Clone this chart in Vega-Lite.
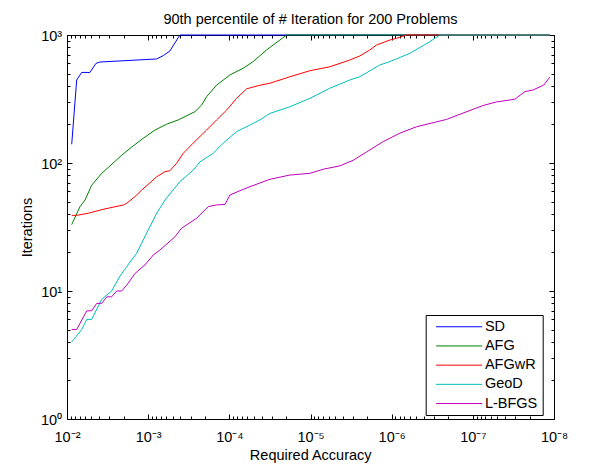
{
  "$schema": "https://vega.github.io/schema/vega-lite/v6.json",
  "description": "90th percentile of # Iteration for 200 Problems",
  "width": 487,
  "height": 384,
  "autosize": "none",
  "padding": {"left": 67, "top": 35, "right": 44, "bottom": 52},
  "background": "white",
  "title": {
    "text": "90th percentile of # Iteration for 200 Problems",
    "font": "Liberation Sans",
    "fontSize": 14.5,
    "fontWeight": "normal",
    "color": "black",
    "anchor": "middle",
    "frame": "group",
    "offset": 1
  },
  "data": {
    "values": [
      {"method": "SD", "accuracy": 8.75e-3, "iterations": 140},
      {"method": "SD", "accuracy": 7.6e-3, "iterations": 445},
      {"method": "SD", "accuracy": 6.59e-3, "iterations": 510},
      {"method": "SD", "accuracy": 5.21e-3, "iterations": 510},
      {"method": "SD", "accuracy": 4.4e-3, "iterations": 600},
      {"method": "SD", "accuracy": 3.93e-3, "iterations": 615},
      {"method": "SD", "accuracy": 7.85e-4, "iterations": 650},
      {"method": "SD", "accuracy": 6.52e-4, "iterations": 690},
      {"method": "SD", "accuracy": 5.4e-4, "iterations": 750},
      {"method": "SD", "accuracy": 4.07e-4, "iterations": 1000},
      {"method": "SD", "accuracy": 1.127e-8, "iterations": 1000},

      {"method": "AFG", "accuracy": 8.75e-3, "iterations": 33},
      {"method": "AFG", "accuracy": 6.92e-3, "iterations": 45.6},
      {"method": "AFG", "accuracy": 6.0e-3, "iterations": 51.4},
      {"method": "AFG", "accuracy": 4.97e-3, "iterations": 67},
      {"method": "AFG", "accuracy": 3.74e-3, "iterations": 83},
      {"method": "AFG", "accuracy": 2.95e-3, "iterations": 95},
      {"method": "AFG", "accuracy": 2.12e-3, "iterations": 115},
      {"method": "AFG", "accuracy": 1.6e-3, "iterations": 133},
      {"method": "AFG", "accuracy": 1.15e-3, "iterations": 156},
      {"method": "AFG", "accuracy": 8.24e-4, "iterations": 181},
      {"method": "AFG", "accuracy": 5.92e-4, "iterations": 201},
      {"method": "AFG", "accuracy": 4.26e-4, "iterations": 217},
      {"method": "AFG", "accuracy": 2.65e-4, "iterations": 252},
      {"method": "AFG", "accuracy": 2.19e-4, "iterations": 284},
      {"method": "AFG", "accuracy": 1.905e-4, "iterations": 330},
      {"method": "AFG", "accuracy": 1.435e-4, "iterations": 406},
      {"method": "AFG", "accuracy": 9.84e-5, "iterations": 487},
      {"method": "AFG", "accuracy": 6.75e-5, "iterations": 550},
      {"method": "AFG", "accuracy": 5.08e-5, "iterations": 620},
      {"method": "AFG", "accuracy": 3.48e-5, "iterations": 764},
      {"method": "AFG", "accuracy": 2.38e-5, "iterations": 914},
      {"method": "AFG", "accuracy": 1.97e-5, "iterations": 1000},
      {"method": "AFG", "accuracy": 1.127e-8, "iterations": 1000},

      {"method": "AFGwR", "accuracy": 8.75e-3, "iterations": 39},
      {"method": "AFGwR", "accuracy": 7.6e-3, "iterations": 39},
      {"method": "AFGwR", "accuracy": 5.47e-3, "iterations": 40.5},
      {"method": "AFGwR", "accuracy": 3.57e-3, "iterations": 43.5},
      {"method": "AFGwR", "accuracy": 2.03e-3, "iterations": 47},
      {"method": "AFGwR", "accuracy": 1.84e-3, "iterations": 48.4},
      {"method": "AFGwR", "accuracy": 1.455e-3, "iterations": 54.6},
      {"method": "AFGwR", "accuracy": 1.2e-3, "iterations": 61.5},
      {"method": "AFGwR", "accuracy": 7.85e-4, "iterations": 78},
      {"method": "AFGwR", "accuracy": 6.21e-4, "iterations": 85.5},
      {"method": "AFGwR", "accuracy": 5.4e-4, "iterations": 87},
      {"method": "AFGwR", "accuracy": 4.46e-4, "iterations": 99.6},
      {"method": "AFGwR", "accuracy": 3.7e-4, "iterations": 119},
      {"method": "AFGwR", "accuracy": 2.79e-4, "iterations": 143},
      {"method": "AFGwR", "accuracy": 1.905e-4, "iterations": 181},
      {"method": "AFGwR", "accuracy": 1.435e-4, "iterations": 217},
      {"method": "AFGwR", "accuracy": 1.08e-4, "iterations": 259},
      {"method": "AFGwR", "accuracy": 8.13e-5, "iterations": 320},
      {"method": "AFGwR", "accuracy": 6.12e-5, "iterations": 380},
      {"method": "AFGwR", "accuracy": 4.2e-5, "iterations": 405},
      {"method": "AFGwR", "accuracy": 3.16e-5, "iterations": 420},
      {"method": "AFGwR", "accuracy": 1.795e-5, "iterations": 472},
      {"method": "AFGwR", "accuracy": 1.016e-5, "iterations": 526},
      {"method": "AFGwR", "accuracy": 5.77e-6, "iterations": 565},
      {"method": "AFGwR", "accuracy": 3.27e-6, "iterations": 638},
      {"method": "AFGwR", "accuracy": 2.47e-6, "iterations": 686},
      {"method": "AFGwR", "accuracy": 1.86e-6, "iterations": 764},
      {"method": "AFGwR", "accuracy": 1.535e-6, "iterations": 835},
      {"method": "AFGwR", "accuracy": 1.05e-6, "iterations": 914},
      {"method": "AFGwR", "accuracy": 8.7e-7, "iterations": 942},
      {"method": "AFGwR", "accuracy": 6.6e-7, "iterations": 1000},
      {"method": "AFGwR", "accuracy": 1.127e-8, "iterations": 1000},

      {"method": "GeoD", "accuracy": 8.75e-3, "iterations": 4},
      {"method": "GeoD", "accuracy": 6.59e-3, "iterations": 5},
      {"method": "GeoD", "accuracy": 5.71e-3, "iterations": 6},
      {"method": "GeoD", "accuracy": 4.97e-3, "iterations": 6},
      {"method": "GeoD", "accuracy": 3.74e-3, "iterations": 8.6},
      {"method": "GeoD", "accuracy": 2.82e-3, "iterations": 10},
      {"method": "GeoD", "accuracy": 2.22e-3, "iterations": 13.1},
      {"method": "GeoD", "accuracy": 1.6e-3, "iterations": 17.5},
      {"method": "GeoD", "accuracy": 1.387e-3, "iterations": 19.7},
      {"method": "GeoD", "accuracy": 1.045e-3, "iterations": 28.3},
      {"method": "GeoD", "accuracy": 7.85e-4, "iterations": 40.5},
      {"method": "GeoD", "accuracy": 6.21e-4, "iterations": 51.4},
      {"method": "GeoD", "accuracy": 4.07e-4, "iterations": 71.4},
      {"method": "GeoD", "accuracy": 2.79e-4, "iterations": 88},
      {"method": "GeoD", "accuracy": 2.3e-4, "iterations": 102},
      {"method": "GeoD", "accuracy": 1.585e-4, "iterations": 119},
      {"method": "GeoD", "accuracy": 1.19e-4, "iterations": 143},
      {"method": "GeoD", "accuracy": 8.13e-5, "iterations": 176},
      {"method": "GeoD", "accuracy": 5.57e-5, "iterations": 198},
      {"method": "GeoD", "accuracy": 4.2e-5, "iterations": 217},
      {"method": "GeoD", "accuracy": 3.16e-5, "iterations": 244},
      {"method": "GeoD", "accuracy": 1.795e-5, "iterations": 275},
      {"method": "GeoD", "accuracy": 1.016e-5, "iterations": 320},
      {"method": "GeoD", "accuracy": 5.77e-6, "iterations": 384},
      {"method": "GeoD", "accuracy": 3.27e-6, "iterations": 445},
      {"method": "GeoD", "accuracy": 2.47e-6, "iterations": 472},
      {"method": "GeoD", "accuracy": 1.4e-6, "iterations": 583},
      {"method": "GeoD", "accuracy": 1.05e-6, "iterations": 620},
      {"method": "GeoD", "accuracy": 5.97e-7, "iterations": 719},
      {"method": "GeoD", "accuracy": 3.39e-7, "iterations": 887},
      {"method": "GeoD", "accuracy": 2.55e-7, "iterations": 1000},
      {"method": "GeoD", "accuracy": 1.127e-8, "iterations": 1000},

      {"method": "L-BFGS", "accuracy": 8.75e-3, "iterations": 5},
      {"method": "L-BFGS", "accuracy": 7.6e-3, "iterations": 5},
      {"method": "L-BFGS", "accuracy": 5.71e-3, "iterations": 7},
      {"method": "L-BFGS", "accuracy": 4.97e-3, "iterations": 7},
      {"method": "L-BFGS", "accuracy": 4.31e-3, "iterations": 8},
      {"method": "L-BFGS", "accuracy": 3.74e-3, "iterations": 8},
      {"method": "L-BFGS", "accuracy": 3.24e-3, "iterations": 9},
      {"method": "L-BFGS", "accuracy": 2.82e-3, "iterations": 9},
      {"method": "L-BFGS", "accuracy": 2.44e-3, "iterations": 10},
      {"method": "L-BFGS", "accuracy": 2.12e-3, "iterations": 10},
      {"method": "L-BFGS", "accuracy": 1.84e-3, "iterations": 11.1},
      {"method": "L-BFGS", "accuracy": 1.455e-3, "iterations": 13.7},
      {"method": "L-BFGS", "accuracy": 1.096e-3, "iterations": 16},
      {"method": "L-BFGS", "accuracy": 8.65e-4, "iterations": 19.1},
      {"method": "L-BFGS", "accuracy": 7.16e-4, "iterations": 20.9},
      {"method": "L-BFGS", "accuracy": 4.68e-4, "iterations": 26.5},
      {"method": "L-BFGS", "accuracy": 3.89e-4, "iterations": 30.9},
      {"method": "L-BFGS", "accuracy": 2.53e-4, "iterations": 37},
      {"method": "L-BFGS", "accuracy": 1.82e-4, "iterations": 45.6},
      {"method": "L-BFGS", "accuracy": 1.445e-4, "iterations": 47},
      {"method": "L-BFGS", "accuracy": 1.13e-4, "iterations": 47.5},
      {"method": "L-BFGS", "accuracy": 9.84e-5, "iterations": 56.2},
      {"method": "L-BFGS", "accuracy": 7.08e-5, "iterations": 61.5},
      {"method": "L-BFGS", "accuracy": 5.57e-5, "iterations": 65.3},
      {"method": "L-BFGS", "accuracy": 3.16e-5, "iterations": 74.6},
      {"method": "L-BFGS", "accuracy": 1.795e-5, "iterations": 80.5},
      {"method": "L-BFGS", "accuracy": 1.016e-5, "iterations": 83},
      {"method": "L-BFGS", "accuracy": 6.97e-6, "iterations": 89.4},
      {"method": "L-BFGS", "accuracy": 4.35e-6, "iterations": 95},
      {"method": "L-BFGS", "accuracy": 2.98e-6, "iterations": 105},
      {"method": "L-BFGS", "accuracy": 2.04e-6, "iterations": 122},
      {"method": "L-BFGS", "accuracy": 1.27e-6, "iterations": 147},
      {"method": "L-BFGS", "accuracy": 7.94e-7, "iterations": 171},
      {"method": "L-BFGS", "accuracy": 4.93e-7, "iterations": 192},
      {"method": "L-BFGS", "accuracy": 2.11e-7, "iterations": 219},
      {"method": "L-BFGS", "accuracy": 9.91e-8, "iterations": 263},
      {"method": "L-BFGS", "accuracy": 7.11e-8, "iterations": 284},
      {"method": "L-BFGS", "accuracy": 5.1e-8, "iterations": 300},
      {"method": "L-BFGS", "accuracy": 3.04e-8, "iterations": 315},
      {"method": "L-BFGS", "accuracy": 2.29e-8, "iterations": 361},
      {"method": "L-BFGS", "accuracy": 1.81e-8, "iterations": 372},
      {"method": "L-BFGS", "accuracy": 1.337e-8, "iterations": 406},
      {"method": "L-BFGS", "accuracy": 1.127e-8, "iterations": 468}
    ]
  },
  "layer": [
    {
      "mark": {"type": "line", "strokeWidth": 1},
      "encoding": {
        "x": {
          "field": "accuracy",
          "type": "quantitative",
          "scale": {"type": "log", "domain": [1e-8, 0.01], "reverse": true},
          "axis": {
            "orient": "bottom",
            "title": "Required Accuracy",
            "titleX": 243.2,
            "titleY": 40.5,
            "titleBaseline": "alphabetic",
            "titleAlign": "center",
            "values": [1e-8, 2e-8, 3e-8, 4e-8, 5e-8, 6e-8, 7e-8, 8e-8, 9e-8, 1e-7, 2e-7, 3e-7, 4e-7, 5e-7, 6e-7, 7e-7, 8e-7, 9e-7, 1e-6, 2e-6, 3e-6, 4e-6, 5e-6, 6e-6, 7e-6, 8e-6, 9e-6, 1e-5, 2e-5, 3e-5, 4e-5, 5e-5, 6e-5, 7e-5, 8e-5, 9e-5, 1e-4, 2e-4, 3e-4, 4e-4, 5e-4, 6e-4, 7e-4, 8e-4, 9e-4, 0.001, 0.002, 0.003, 0.004, 0.005, 0.006, 0.007, 0.008, 0.009, 0.01],
            "labelExpr": "abs(log(datum.value)/LN10 - round(log(datum.value)/LN10)) < 1e-6 ? '10' + (datum.value < 1 ? '⁻' : '') + ['⁰','¹','²','³','⁴','⁵','⁶','⁷','⁸','⁹'][abs(round(log(datum.value)/LN10))] : ''",
            "tickSize": {"condition": {"test": "abs(log(datum.value)/LN10 - round(log(datum.value)/LN10)) < 1e-6", "value": -5}, "value": -3},
            "labelPadding": 16.5,
            "labelBaseline": "top"
          }
        },
        "y": {
          "field": "iterations",
          "type": "quantitative",
          "scale": {"type": "log", "domain": [1, 1000]},
          "axis": {
            "orient": "left",
            "title": "Iterations",
            "titleX": -35.3,
            "titleY": 192,
            "titleAngle": -90,
            "titleBaseline": "alphabetic",
            "titleAlign": "center",
            "values": [1, 2, 3, 4, 5, 6, 7, 8, 9, 10, 20, 30, 40, 50, 60, 70, 80, 90, 100, 200, 300, 400, 500, 600, 700, 800, 900, 1000],
            "labelExpr": "abs(log(datum.value)/LN10 - round(log(datum.value)/LN10)) < 1e-6 ? '10' + ['⁰','¹','²','³','⁴','⁵','⁶','⁷','⁸','⁹'][abs(round(log(datum.value)/LN10))] : ''",
            "tickSize": {"condition": {"test": "abs(log(datum.value)/LN10 - round(log(datum.value)/LN10)) < 1e-6", "value": -5}, "value": -3},
            "labelPadding": 10.3,
            "labelBaseline": "middle",
            "labelOffset": 1
          }
        },
        "color": {
          "field": "method",
          "type": "nominal",
          "scale": {
            "domain": ["SD", "AFG", "AFGwR", "GeoD", "L-BFGS"],
            "range": ["#0000ff", "#008000", "#ff0000", "#00bfbf", "#bf00bf"]
          },
          "legend": {
            "orient": "none",
            "legendX": 358.7,
            "legendY": 280,
            "title": null,
            "strokeColor": "black",
            "fillColor": "white",
            "padding": 4.5,
            "symbolOffset": 21.7,
            "symbolType": "M-4,0h8",
            "symbolSize": 133,
            "symbolStrokeWidth": 1,
            "labelFont": "Liberation Sans",
            "labelFontSize": 14.5,
            "labelColor": "black",
            "labelOffset": 18.5,
            "rowPadding": 4.2
          }
        }
      }
    },
    {
      "mark": {"type": "point", "opacity": 0},
      "encoding": {
        "x": {
          "field": "accuracy",
          "type": "quantitative",
          "axis": {
            "orient": "top",
            "title": null,
            "labels": false,
            "values": [1e-8, 2e-8, 3e-8, 4e-8, 5e-8, 6e-8, 7e-8, 8e-8, 9e-8, 1e-7, 2e-7, 3e-7, 4e-7, 5e-7, 6e-7, 7e-7, 8e-7, 9e-7, 1e-6, 2e-6, 3e-6, 4e-6, 5e-6, 6e-6, 7e-6, 8e-6, 9e-6, 1e-5, 2e-5, 3e-5, 4e-5, 5e-5, 6e-5, 7e-5, 8e-5, 9e-5, 1e-4, 2e-4, 3e-4, 4e-4, 5e-4, 6e-4, 7e-4, 8e-4, 9e-4, 0.001, 0.002, 0.003, 0.004, 0.005, 0.006, 0.007, 0.008, 0.009, 0.01],
            "tickSize": {"condition": {"test": "abs(log(datum.value)/LN10 - round(log(datum.value)/LN10)) < 1e-6", "value": -5}, "value": -3}
          }
        },
        "y": {
          "field": "iterations",
          "type": "quantitative",
          "axis": {
            "orient": "right",
            "title": null,
            "labels": false,
            "values": [1, 2, 3, 4, 5, 6, 7, 8, 9, 10, 20, 30, 40, 50, 60, 70, 80, 90, 100, 200, 300, 400, 500, 600, 700, 800, 900, 1000],
            "tickSize": {"condition": {"test": "abs(log(datum.value)/LN10 - round(log(datum.value)/LN10)) < 1e-6", "value": -5}, "value": -3}
          }
        }
      }
    }
  ],
  "resolve": {"axis": {"x": "independent", "y": "independent"}},
  "config": {
    "view": {"stroke": null},
    "font": "Liberation Sans",
    "axis": {
      "grid": false,
      "domainColor": "black",
      "domainWidth": 1,
      "tickColor": "black",
      "tickWidth": 1,
      "labelFont": "Liberation Sans",
      "labelFontSize": 14.5,
      "labelColor": "black",
      "labelFlush": false,
      "labelOverlap": false,
      "titleFont": "Liberation Sans",
      "titleFontSize": 14.5,
      "titleFontWeight": "normal",
      "titleColor": "black"
    }
  }
}
